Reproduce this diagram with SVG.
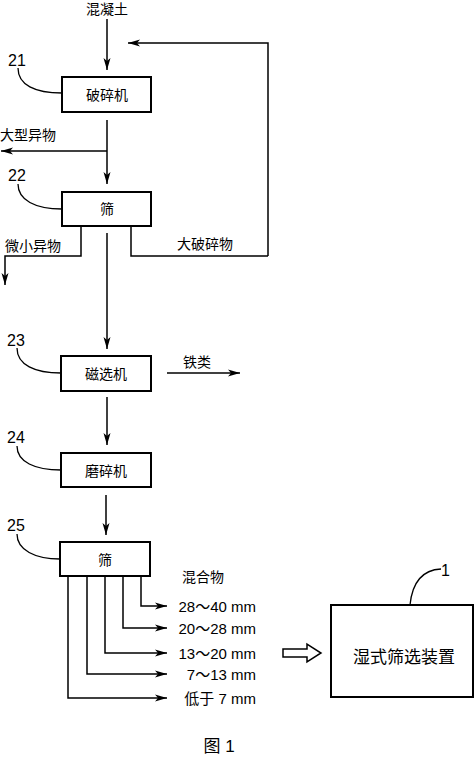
<svg xmlns="http://www.w3.org/2000/svg" width="474" height="764" viewBox="0 0 474 764">
<defs>
<marker id="ah" viewBox="0 0 12 8" refX="12" refY="4" markerWidth="12" markerHeight="8" markerUnits="userSpaceOnUse" orient="auto">
<path d="M0,0.5 L12,4 L0,7.5 L3,4 Z" fill="#000"/>
</marker>
</defs>
<style>
text{font-family:"Liberation Sans","Noto Sans CJK SC",sans-serif;fill:#000}
.box{fill:#fff;stroke:#000;stroke-width:2}
.ln{fill:none;stroke:#000;stroke-width:1.5}
.arr{fill:none;stroke:#000;stroke-width:1.5;marker-end:url(#ah)}
.lead{fill:none;stroke:#000;stroke-width:1.3}
.t{font-size:14px;text-anchor:middle;dominant-baseline:central}
.num{font-size:16px;dominant-baseline:central}
.lbl{font-size:14px;dominant-baseline:central}
.sz{font-size:15px;text-anchor:end;dominant-baseline:central}
</style>
<text class="t" x="107" y="9">混凝土</text>
<g id="crusher">
<rect class="box" x="62" y="77" width="89" height="35"/>
<text class="t" x="107" y="95">破碎机</text>
<text class="num" x="8" y="60">21</text>
<path class="lead" d="M18,68 C18,85 35,93 62,93"/>
</g>
<g id="sieve1">
<rect class="box" x="62" y="192" width="89" height="34"/>
<text class="t" x="107" y="209">筛</text>
<text class="num" x="8" y="175">22</text>
<path class="lead" d="M18,184 C18,200 35,209 62,209"/>
</g>
<g id="magnet">
<rect class="box" x="61" y="356" width="90" height="35"/>
<text class="t" x="106" y="374">磁选机</text>
<text class="num" x="7" y="340">23</text>
<path class="lead" d="M17,348 C17,365 35,373 61,373"/>
</g>
<g id="grinder">
<rect class="box" x="61" y="453" width="90" height="34"/>
<text class="t" x="106" y="471">磨碎机</text>
<text class="num" x="7" y="437">24</text>
<path class="lead" d="M17,446 C17,462 35,470 61,470"/>
</g>
<g id="sieve2">
<rect class="box" x="60" y="542" width="90" height="34"/>
<text class="t" x="105" y="560">筛</text>
<text class="num" x="7" y="525">25</text>
<path class="lead" d="M17,534 C17,550 35,559 60,559"/>
</g>
<g id="wet">
<rect class="box" x="331" y="605" width="142" height="92"/>
<text class="t" x="404" y="657" style="font-size:17px">湿式筛选装置</text>
<text class="num" x="441" y="570">1</text>
<path class="lead" d="M410,605 C412,585 420,570 441,569"/>
</g>
<g id="connectors">
<path class="arr" d="M107,19 V70"/>
<path class="arr" d="M268,256 V43 H128"/>
<path class="ln" d="M131,226 V256 H268"/>
<path class="arr" d="M107,120 V184"/>
<path class="arr" d="M107,151 H1"/>
<path class="arr" d="M81,226 V256 H5 V285"/>
<path class="arr" d="M107,233 V349"/>
<path class="arr" d="M167,373 H240"/>
<path class="arr" d="M107,397 V445"/>
<path class="arr" d="M106,495 V535"/>
<path class="arr" d="M141,576 V606 H167"/>
<path class="arr" d="M123,576 V628 H167"/>
<path class="arr" d="M105,576 V653 H167"/>
<path class="arr" d="M87,576 V674 H167"/>
<path class="arr" d="M68,576 V698 H167"/>
<path d="M283,649 H307 V644 L321,653 L307,662 V657 H283 Z" fill="#fff" stroke="#000" stroke-width="1.5"/>
</g>
<text class="lbl" x="0" y="135">大型异物</text>
<text class="lbl" x="5" y="246">微小异物</text>
<text class="lbl" x="177" y="244">大破碎物</text>
<text class="lbl" x="183" y="362">铁类</text>
<text class="lbl" x="182" y="577">混合物</text>
<text class="sz" x="256" y="606">28～40 mm</text>
<text class="sz" x="256" y="628">20～28 mm</text>
<text class="sz" x="256" y="653">13～20 mm</text>
<text class="sz" x="256" y="674">7～13 mm</text>
<text class="sz" x="256" y="698">低于 7 mm</text>
<text class="t" x="219" y="746" style="font-size:17px">图 1</text>
</svg>
